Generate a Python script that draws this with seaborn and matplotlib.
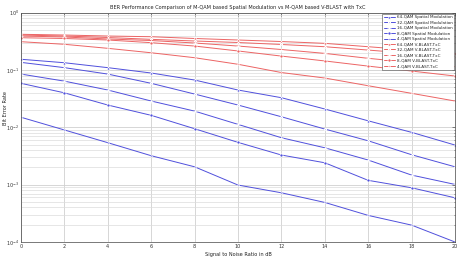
import numpy as np
import pandas as pd
import matplotlib
matplotlib.use("Agg")
import matplotlib.pyplot as plt
import seaborn as sns
from matplotlib.ticker import LogLocator, NullFormatter

snr = [0, 2, 4, 6, 8, 10, 12, 14, 16, 18, 20]

sm_labels = ["64-QAM Spatial Modulation", "32-QAM Spatial Modulation",
             "16-QAM Spatial Modulation", "8-QAM Spatial Modulation",
             "4-QAM Spatial Modulation"]
vb_labels = ["64-QAM V-BLAST-TxC", "32-QAM V-BLAST-TxC", "16-QAM V-BLAST-TxC",
             "8-QAM V-BLAST-TxC", "4-QAM V-BLAST-TxC"]

sm64 = [0.154, 0.134, 0.110, 0.0887, 0.0669, 0.0448, 0.0329, 0.0209, 0.0130, 0.00818, 0.00491]
sm32 = [0.136, 0.110, 0.085, 0.0586, 0.0381, 0.0245, 0.0153, 0.00934, 0.00583, 0.00333, 0.00205]
sm16 = [0.085, 0.064, 0.0448, 0.0288, 0.0192, 0.01127, 0.00659, 0.0044, 0.00269, 0.00147, 0.00101]
sm8 = [0.0586, 0.040, 0.0245, 0.0162, 0.00946, 0.00547, 0.00329, 0.00241, 0.00119, 0.000883, 0.00059]
sm4 = [0.015, 0.009, 0.0054, 0.0032, 0.00205, 0.000985, 0.000722, 0.00049, 0.000291, 0.000197, 0.0001]

vb64 = [0.420, 0.408, 0.392, 0.381, 0.355, 0.334, 0.314, 0.292, 0.255, 0.223, 0.195]
vb32 = [0.408, 0.392, 0.369, 0.343, 0.321, 0.302, 0.279, 0.255, 0.223, 0.194, 0.169]
vb16 = [0.392, 0.377, 0.348, 0.327, 0.296, 0.262, 0.228, 0.195, 0.160, 0.135, 0.114]
vb8 = [0.366, 0.355, 0.334, 0.300, 0.262, 0.215, 0.175, 0.144, 0.117, 0.096, 0.0786]
vb4 = [0.312, 0.281, 0.239, 0.200, 0.164, 0.126, 0.0904, 0.0725, 0.0532, 0.0392, 0.0288]

xticks = [0, 2, 4, 6, 8, 10, 12, 14, 16, 18, 20]

sns.set_style("white")
plt.rcParams['font.family'] = ['DejaVu Sans']

fig = plt.figure(figsize=(4.74, 2.60), dpi=100)
ax = fig.add_axes([21 / 474, 1 - 242 / 260, (455 - 21) / 474, (242 - 12.7) / 260])

markers = ['^', '*', '+', 'o', '.']
blue = '#5050dc'
red = '#ec6464'
sm_series = [sm64, sm32, sm16, sm8, sm4]
vb_series = [vb64, vb32, vb16, vb8, vb4]

for lab, vals, m in zip(sm_labels, sm_series, markers):
    sns.lineplot(x=snr, y=vals, ax=ax, color=blue, marker=m, markersize=2.2,
                 markeredgewidth=0.5, linewidth=0.7, label=lab)
for lab, vals, m in zip(vb_labels, vb_series, markers):
    sns.lineplot(x=snr, y=vals, ax=ax, color=red, marker=m, markersize=2.2,
                 markeredgewidth=0.5, linewidth=0.7, label=lab)

ax.set_yscale('log')
ax.set_xlim(0, 20)
ax.set_ylim(1e-4, 1)
ax.set_xticks(xticks)
ax.set_xticklabels([str(t) for t in xticks])
ax.yaxis.set_major_locator(LogLocator(base=10, numticks=10))
ax.yaxis.set_minor_locator(LogLocator(base=10, subs=np.arange(2, 10), numticks=50))
ax.yaxis.set_minor_formatter(NullFormatter())

ax.grid(True, which='major', color='#d0d0d0', linewidth=0.6)
ax.grid(True, which='minor', axis='y', color='#dcdcdc', linewidth=0.5)

ax.tick_params(axis='both', which='both', direction='in', labelsize=3.5,
               top=True, right=True, length=2, width=0.4, pad=1.5, colors='#333333')
ax.tick_params(axis='y', which='minor', length=1)
for s in ax.spines.values():
    s.set_color('#444444')
    s.set_linewidth(0.5)

ax.set_title("BER Performance Comparison of M-QAM based Spatial Modulation vs M-QAM based V-BLAST with TxC",
             fontsize=3.6, pad=3, color='#222222')
ax.set_xlabel("Signal to Noise Ratio in dB", fontsize=3.6, labelpad=2, color='#222222')
ax.set_ylabel("Bit Error Rate", fontsize=3.6, color='#222222')
ax.yaxis.set_label_coords(-0.03, 0.584)

leg = ax.legend(loc='upper right', fontsize=3.0, frameon=True, fancybox=False,
                edgecolor='#444444', framealpha=1, borderpad=0.4, labelspacing=0.35,
                handlelength=2.6, handletextpad=0.5, borderaxespad=0.2)
leg.get_frame().set_linewidth(0.4)

fig.savefig("out.png", dpi=100)
